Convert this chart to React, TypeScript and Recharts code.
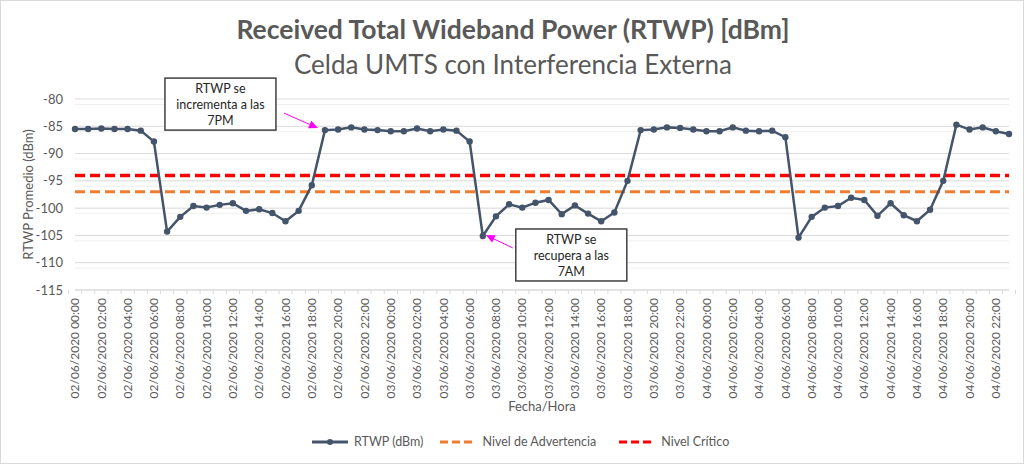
import React from 'react';
import { LineChart, Line, XAxis, YAxis, CartesianGrid, ReferenceLine, ReferenceDot } from 'recharts';

const DAYS = ['02/06/2020', '03/06/2020', '04/06/2020'];
const HOURS = [
  '00:00', '01:00', '02:00', '03:00', '04:00', '05:00', '06:00', '07:00',
  '08:00', '09:00', '10:00', '11:00', '12:00', '13:00', '14:00', '15:00',
  '16:00', '17:00', '18:00', '19:00', '20:00', '21:00', '22:00', '23:00',
];
const RTWP_DAY1 = [
  -85.5, -85.5, -85.4, -85.5, -85.5, -85.8, -87.8, -104.3, -101.6, -99.6, -99.9, -99.4,
  -99.1, -100.5, -100.2, -100.9, -102.4, -100.5, -95.8, -85.7, -85.6, -85.2, -85.6, -85.7,
];
const RTWP_DAY2 = [
  -85.9, -85.9, -85.4, -85.9, -85.6, -85.8, -87.8, -105.1, -101.5, -99.3, -99.9, -99.0,
  -98.5, -101.1, -99.5, -101.0, -102.4, -100.8, -95.0, -85.7, -85.6, -85.2, -85.3, -85.6,
];
const RTWP_DAY3 = [
  -85.9, -85.9, -85.2, -85.8, -85.9, -85.8, -87.0, -105.4, -101.6, -99.9, -99.6, -98.1,
  -98.5, -101.4, -99.1, -101.3, -102.4, -100.3, -95.0, -84.7, -85.6, -85.2, -85.9, -86.4,
];
const WARNING_LEVEL = -97;
const CRITICAL_LEVEL = -94;
const Y_TICKS = [-115, -110, -105, -100, -95, -90, -85, -80];
const MINOR_GRID = [
  -114, -113, -112, -111, -109, -108, -107, -106, -104, -103, -102, -101, -99, -98, -97, -96,
  -94, -93, -92, -91, -89, -88, -87, -86, -84, -83, -82, -81,
];
const ANNOTATION_UP = { day: 0, hour: 19, lines: ['RTWP se', 'incrementa a las', '7PM'] };
const ANNOTATION_DOWN = { day: 1, hour: 7, lines: ['RTWP se', 'recupera a las', '7AM'] };

const RTWP_ALL = [RTWP_DAY1, RTWP_DAY2, RTWP_DAY3];
const data = DAYS.flatMap((d, di) =>
  HOURS.map((h, hi) => ({ t: `${d} ${h}`, rtwp: RTWP_ALL[di][hi] }))
);
const catOf = (day: number, hour: number) => `${DAYS[day]} ${HOURS[hour]}`;
const valOf = (day: number, hour: number) => RTWP_ALL[day][hour];

const W = 1024;
const H = 464;
const X_AXIS_H = 175;
const M = { top: 98, right: 16, left: 14, bottom: 0 };
const Y_AXIS_W = 60;
const PLOT_LEFT = M.left + Y_AXIS_W;
const PLOT_W = W - M.right - PLOT_LEFT;
const HALF_BAND = PLOT_W / data.length / 2;
const AXIS_Y = H - M.bottom - X_AXIS_H;
const GREY = '#595959';
const FONT = 'Lato, "Open Sans", sans-serif';
const MAGENTA = '#FF00FF';

const XTick = (props: any) => {
  const { x, payload, index } = props;
  return (
    <g>
      <line x1={x - HALF_BAND} x2={x - HALF_BAND} y1={AXIS_Y} y2={AXIS_Y + 4} stroke="#d9d9d9" />
      {index === data.length - 1 && (
        <line x1={x + HALF_BAND} x2={x + HALF_BAND} y1={AXIS_Y} y2={AXIS_Y + 4} stroke="#d9d9d9" />
      )}
      {index % 2 === 0 && (
        <text
          transform={`translate(${x},${AXIS_Y + 8}) rotate(-90)`}
          textAnchor="end"
          dy="0.35em"
          fill={GREY}
          fontSize={12}
          fontFamily={FONT}
        >
          {payload.value}
        </text>
      )}
    </g>
  );
};

const Callout = (opts: { lines: string[]; bx: number; by: number; bw: number; bh: number; ax1: number; ay1: number; ax2: number; ay2: number }) =>
  (props: any) => {
    const { cx, cy } = props;
    const { lines, bx, by, bw, bh, ax1, ay1, ax2, ay2 } = opts;
    const x1 = cx + ax1, y1 = cy + ay1, x2 = cx + ax2, y2 = cy + ay2;
    const ang = Math.atan2(y2 - y1, x2 - x1);
    const L = 9, Wd = 4;
    const bxp = x2 - L * Math.cos(ang), byp = y2 - L * Math.sin(ang);
    const p1 = `${x2},${y2}`;
    const p2 = `${bxp + Wd * Math.sin(ang)},${byp - Wd * Math.cos(ang)}`;
    const p3 = `${bxp - Wd * Math.sin(ang)},${byp + Wd * Math.cos(ang)}`;
    return (
      <g>
        <line x1={x1} y1={y1} x2={bxp} y2={byp} stroke={MAGENTA} strokeWidth={1} />
        <polygon points={`${p1} ${p2} ${p3}`} fill={MAGENTA} />
        <rect x={cx + bx} y={cy + by} width={bw} height={bh} fill="#fff" stroke="#404040" strokeWidth={1.5} />
        {lines.map((l, i) => (
          <text
            key={i}
            x={cx + bx + bw / 2}
            y={cy + by + 15 + i * 16}
            textAnchor="middle"
            fontSize={12.5}
            fontFamily={FONT}
            fill="#262626"
          >
            {l}
          </text>
        ))}
      </g>
    );
  };

const upShape = Callout({ lines: ANNOTATION_UP.lines, bx: -160, by: -52, bw: 111, bh: 52, ax1: -41, ay1: -17, ax2: -7, ay2: -2 });
const downShape = Callout({ lines: ANNOTATION_DOWN.lines, bx: 33, by: -7, bw: 111, bh: 52, ax1: 30, ay1: 12, ax2: 3, ay2: -1 });

const LegendItem = ({ color, dashed, dot, label, gap }: { color: string; dashed?: boolean; dot?: boolean; label: string; gap: number }) => (
  <div style={{ display: 'flex', alignItems: 'center', marginRight: gap }}>
    <svg width={38} height={10} style={{ marginRight: 5 }}>
      <line x1={1} x2={37} y1={5} y2={5} stroke={color} strokeWidth={3} strokeDasharray={dashed ? '8 4' : undefined} />
      {dot && <circle cx={19} cy={5} r={3} fill={color} />}
    </svg>
    <span>{label}</span>
  </div>
);

export default function App() {
  return (
    <div
      style={{
        position: 'absolute',
        left: 0,
        top: 0,
        width: W,
        height: H,
        background: '#fff',
        boxSizing: 'border-box',
        border: '1px solid #d9d9d9',
        fontFamily: FONT,
        overflow: 'hidden',
      }}
    >
      <div style={{ position: 'absolute', left: 0, top: 12, width: W, textAlign: 'center', fontSize: 26.5, fontWeight: 700, color: GREY }}>
        Received Total Wideband Power (RTWP) [dBm]
      </div>
      <div style={{ position: 'absolute', left: 0, top: 47, width: W, textAlign: 'center', fontSize: 26, color: GREY }}>
        Celda UMTS con Interferencia Externa
      </div>
      <div style={{ position: 'absolute', left: 0, top: 0 }}>
        <LineChart width={W} height={H} data={data} margin={M}>
          <CartesianGrid horizontalValues={MINOR_GRID} vertical={false} stroke="#f0f0f0" />
          <CartesianGrid vertical={false} stroke="#d9d9d9" />
          <XAxis
            dataKey="t"
            interval={0}
            tick={<XTick />}
            tickLine={false}
            axisLine={{ stroke: '#d9d9d9' }}
            height={X_AXIS_H}
            label={{ value: 'Fecha/Hora', position: 'insideTop', offset: 112, fill: GREY, fontSize: 13, fontFamily: FONT }}
          />
          <YAxis
            domain={[-115, -80]}
            ticks={Y_TICKS}
            width={Y_AXIS_W}
            axisLine={false}
            tickLine={false}
            tick={{ fill: GREY, fontSize: 13, fontFamily: FONT }}
            tickMargin={6}
            label={{ value: 'RTWP Promedio (dBm)', angle: -90, position: 'insideLeft', offset: 0, dx: 13, fill: GREY, fontSize: 13, fontFamily: FONT, style: { textAnchor: 'middle' } }}
          />
          <ReferenceLine
            segment={[{ x: data[0].t, y: WARNING_LEVEL }, { x: data[data.length - 1].t, y: WARNING_LEVEL }]}
            stroke="#ED7D31"
            strokeWidth={3}
            strokeDasharray="10 5"
          />
          <ReferenceLine
            segment={[{ x: data[0].t, y: CRITICAL_LEVEL }, { x: data[data.length - 1].t, y: CRITICAL_LEVEL }]}
            stroke="#FF0000"
            strokeWidth={3.5}
            strokeDasharray="10 5"
          />
          <Line
            dataKey="rtwp"
            stroke="#44546A"
            strokeWidth={2.5}
            dot={{ r: 3.2, fill: '#44546A', stroke: '#44546A', strokeWidth: 0 }}
            isAnimationActive={false}
          />
          <ReferenceDot
            x={catOf(ANNOTATION_UP.day, ANNOTATION_UP.hour)}
            y={valOf(ANNOTATION_UP.day, ANNOTATION_UP.hour)}
            shape={upShape}
          />
          <ReferenceDot
            x={catOf(ANNOTATION_DOWN.day, ANNOTATION_DOWN.hour)}
            y={valOf(ANNOTATION_DOWN.day, ANNOTATION_DOWN.hour)}
            shape={downShape}
          />
        </LineChart>
      </div>
      <div
        style={{
          position: 'absolute',
          left: 310,
          top: 433,
          display: 'flex',
          fontSize: 12.5,
          color: GREY,
        }}
      >
        <LegendItem color="#44546A" dot label="RTWP (dBm)" gap={16} />
        <LegendItem color="#ED7D31" dashed label="Nivel de Advertencia" gap={22} />
        <LegendItem color="#FF0000" dashed label="Nivel Crítico" gap={0} />
      </div>
    </div>
  );
}
